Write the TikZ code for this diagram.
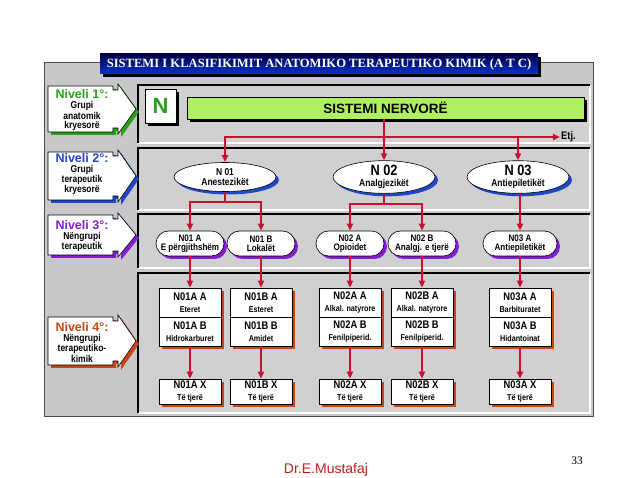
\documentclass[tikz,border=0pt]{standalone}
\usepackage{fontspec}
\setmainfont{Liberation Sans}
\newfontfamily\serifface{Liberation Serif}
\newfontfamily\narrowsans[FakeStretch=0.85]{Liberation Sans}
\usetikzlibrary{arrows.meta}
\usetikzlibrary{shapes.geometric, shapes.misc, shadows, positioning}

\definecolor{outergray}{RGB}{200,200,200}
\definecolor{panelgray}{RGB}{208,208,208}
\definecolor{nivgreen}{RGB}{40,160,30}
\definecolor{nivblue}{RGB}{30,70,200}
\definecolor{nivpurple}{RGB}{130,30,210}
\definecolor{nivorange}{RGB}{200,70,20}
\definecolor{linkred}{RGB}{200,16,48}
\definecolor{barlime}{RGB}{176,240,96}
\definecolor{navytop}{RGB}{0,0,70}
\definecolor{navybot}{RGB}{10,50,200}
\definecolor{signred}{RGB}{190,30,30}

\newcommand\subfont{\fontsize{8.5}{9}\selectfont}
\newcommand\nivhead[2]{{\normalfont\bfseries\color{#1}\fontsize{12.5}{12.5}\selectfont #2}}
% left label arrow: top, bottom, shadow colour
\newcommand\nivarrow[3]{%
  \foreach \dd/\ff/\dr in {3/#3/none, 0/white/black}
    \filldraw[fill=\ff, draw=\dr, line width=.6pt, shift={(\dd,\dd)}]
      (48,#1) -- (113,#1) -- (113,{#1+4}) -- (118,{#1+4}) -- (118,{#1-2})
      -- (136,{(#1+#2)/2}) -- (118,{#2+2}) -- (118,{#2-4}) -- (113,{#2-4})
      -- (113,#2) -- (48,#2) -- cycle;
}

\tikzset{
  >={Triangle[length=7pt,width=6pt]},
  link/.style={->, draw=linkred, line width=2pt},
  shade3/.style={drop shadow={shadow xshift=3pt, shadow yshift=-3pt, fill=#1, opacity=1}},
  titlebar/.style={minimum width=438pt, minimum height=20pt, inner sep=0pt,
    top color=navytop, bottom color=navybot, shade3=black, text=white,
    font=\serifface\bfseries\fontsize{12.6}{13}\selectfont},
  nbox/.style={draw, fill=white, line width=.6pt, minimum width=31pt, minimum height=34pt,
    inner sep=0pt, text=nivgreen, shade3=black, font=\bfseries\fontsize{22}{22}\selectfont},
  limebar/.style={draw, fill=barlime, line width=.6pt, minimum width=397pt, minimum height=22pt,
    inner sep=0pt, shade3=black, font=\bfseries\fontsize{13.5}{14}\selectfont},
  nivtext/.style={align=center, inner sep=0pt, font=\narrowsans\bfseries\fontsize{10}{9.3}\selectfont},
  ellbox/.style={ellipse, draw, fill=white, line width=.6pt, minimum width=102pt,
    minimum height=29pt, inner sep=0pt, align=center, shade3=nivblue,
    font=\narrowsans\bfseries\fontsize{10}{10.5}\selectfont},
  subbox/.style={rounded rectangle, draw, fill=white, line width=.6pt, minimum width=70pt,
    minimum height=25pt, inner sep=1pt, align=center, shade3=nivpurple,
    font=\narrowsans\bfseries\fontsize{9.5}{9.5}\selectfont},
  pairbox/.style={draw, fill=white, line width=.6pt, minimum width=62pt, minimum height=58pt,
    inner sep=0pt, shade3=nivorange},
  cellbox/.style={draw, fill=white, line width=.6pt, minimum width=62pt, minimum height=29pt,
    inner sep=0pt, align=center, font=\narrowsans\bfseries\fontsize{11}{11.5}\selectfont},
  xbox/.style={cellbox, minimum height=25pt, shade3=nivorange}
}

\begin{document}
\begin{tikzpicture}[x=1pt,y=-1pt]
\useasboundingbox (0,0) rectangle (638,478);

% outer frame
\filldraw[fill=outergray, draw=gray!60!black, line width=.8pt] (44,62) rectangle (593,416);

% level panels
\foreach \ptop/\pbot in {85/143, 148/210, 214/268, 273/413}{
  \fill[panelgray] (138,\ptop) rectangle (590,\pbot);
  \draw[white, line width=1.5pt] (590,\ptop) -- (590,\pbot) -- (138,\pbot);
  \draw[line width=1.5pt] (138,\pbot) -- (138,\ptop) -- (590,\ptop);
}

% title banner
\node[titlebar] (title) at (319,64) {SISTEMI I KLASIFIKIMIT ANATOMIKO TERAPEUTIKO KIMIK (A T C)};

% level labels
\nivarrow{86}{132}{nivgreen}
\nivarrow{152}{200}{nivblue}
\nivarrow{215}{255}{nivpurple}
\nivarrow{317}{365}{nivorange}
\node[nivtext] (niv1) at (82,110) {\nivhead{nivgreen}{Niveli 1°:}\\[1pt]Grupi\\anatomik\\kryesorë};
\node[nivtext] (niv2) at (82,174) {\nivhead{nivblue}{Niveli 2°:}\\[1pt]Grupi\\terapeutik\\kryesorë};
\node[nivtext] (niv3) at (82,236) {\nivhead{nivpurple}{Niveli 3°:}\\[1pt]Nëngrupi\\terapeutik};
\node[nivtext] (niv4) at (82,342) {\nivhead{nivorange}{Niveli 4°:}\\[1pt]Nëngrupi\\terapeutiko-\\kimik};

% level 1
\node[nbox] (nletter) at (160.5,106) {N};
\node[limebar] (nerv) at (385.5,108) {SISTEMI NERVORË};
\node[anchor=west, inner sep=1pt, font=\narrowsans\bfseries\fontsize{11}{11}\selectfont] (etj) at (560,137) {Etj.};

% level 2
\node[ellbox] (n01) at (225,177) {N 01\\Anestezikët};
\node[ellbox] (n02) at (384,177) {{\fontsize{15}{15}\selectfont N 02}\\Analgjezikët};
\node[ellbox] (n03) at (518,177) {{\fontsize{15}{15}\selectfont N 03}\\Antiepiletikët};

\coordinate (split) at (225,137);
\draw[link, <->] (n01.north) -- (split) -- (etj.west);
\draw[link] (nerv.south -| n02.north) -- (n02.north);
\draw[link] (split -| n03.north) -- (n03.north);

% level 3
\node[subbox] (n01a) at (190,243.5) {N01 A\\E përgjithshëm};
\node[subbox] (n01b) at (261,243.5) {N01 B\\Lokalët};
\node[subbox] (n02a) at (350,243.5) {N02 A\\Opioidet};
\node[subbox] (n02b) at (422,243.5) {N02 B\\Analgj. e tjerë};
\node[subbox, minimum width=76pt] (n03a) at (520,243.5) {N03 A\\Antiepiletikët};

\draw[link] (n01.south) -- ++(0,10) -| (n01a.north);
\draw[link] (n01.south) -- ++(0,10) -| (n01b.north);
\draw[link] (n02.south) -- ++(0,10) -| (n02a.north);
\draw[link] (n02.south) -- ++(0,10) -| (n02b.north);
\draw[link] (n03.south -| n03a.north) -- (n03a.north);

% level 4
\foreach \col/\cx/\code/\ta/\tb in {
    01a/190/N01A/Eteret/Hidrokarburet,
    01b/261/N01B/Esteret/Amidet,
    02a/350/N02A/Alkal. natyrore/Fenilpiperid.,
    02b/422/N02B/Alkal. natyrore/Fenilpiperid.,
    03a/520/N03A/Barbituratet/Hidantoinat}{
  \node[pairbox] (p\col) at (\cx,317) {};
  \node[cellbox, anchor=north] (p\col-a) at (p\col.north) {\code\ A\\{\subfont\ta}};
  \node[cellbox, anchor=south] (p\col-b) at (p\col.south) {\code\ B\\{\subfont\tb}};
  \node[xbox] (x\col) at (\cx,391.5) {\code\ X\\{\subfont Të tjerë}};
  \draw[link] (n\col.south) -- (p\col.north);
  \draw[link] (p\col.south) -- (x\col.north);
}

% footer
\node[text=signred, font=\fontsize{14}{14}\selectfont] (sign) at (326,470) {Dr.E.Mustafaj};
\node[font=\serifface\fontsize{11.5}{11.5}\selectfont] (pagenum) at (577,461) {33};
\end{tikzpicture}
\end{document}
